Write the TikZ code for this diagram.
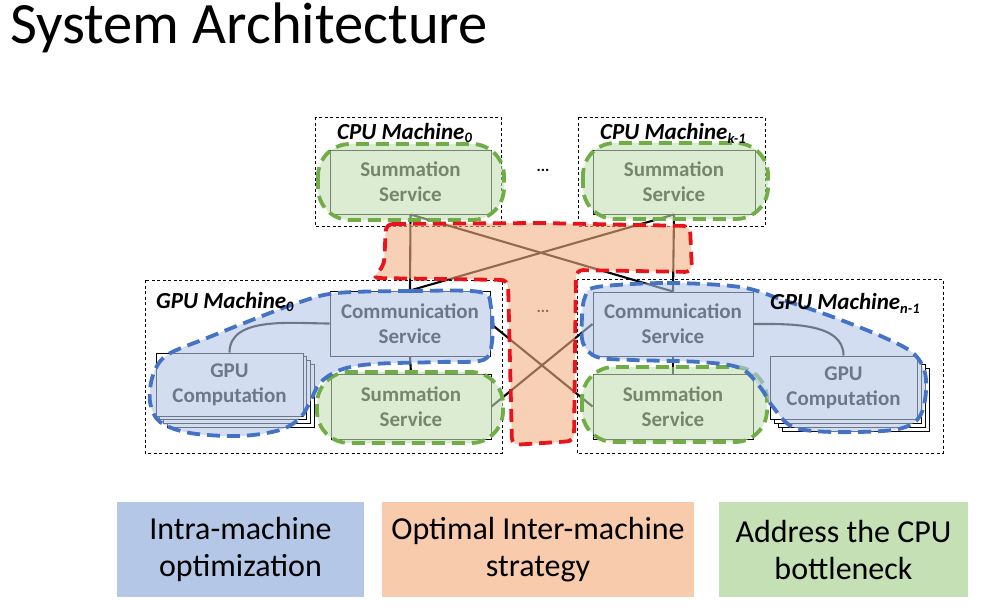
\documentclass[tikz,border=0pt]{standalone}
\usepackage{fontspec}
\setmainfont{Carlito}
\definecolor{blueov}{HTML}{B4C7E7}
\definecolor{greenov}{HTML}{C5E0B4}
\definecolor{salmonov}{HTML}{F4B183}
\definecolor{reddash}{HTML}{E8141B}
\definecolor{bluedash}{HTML}{4472C4}
\definecolor{greendash}{HTML}{70AD47}
\definecolor{legblue}{HTML}{B4C7E7}
\definecolor{legorange}{HTML}{F8CBAD}
\definecolor{leggreen}{HTML}{C5E0B4}
\newcommand\lsub[1]{\raisebox{-0.35ex}{\fontsize{14.5}{14.5}\selectfont #1}}
\tikzset{
  mbox/.style={draw=black, line width=0.9pt, dash pattern=on 3pt off 2.5pt},
  sbox/.style={draw=black, fill=white, line width=1pt, inner sep=0pt, align=center,
    font=\fontsize{21}{25}\selectfont\bfseries},
  stackbox/.style={draw=black, fill=white, line width=1pt, inner sep=0pt,
    minimum width=147pt, minimum height=63pt},
  lbl/.style={font=\fontsize{23}{27}\selectfont\bfseries\itshape, inner sep=0pt, anchor=west},
  dots/.style={font=\fontsize{16}{16}\selectfont\bfseries, inner sep=0pt},
  link/.style={line width=2.1pt, draw=black},
  ovl/.style={line width=3.8pt, dash pattern=on 13pt off 7pt, fill opacity=0.6},
  legend/.style={inner sep=0pt, align=center, font=\fontsize{32}{39}\selectfont}
}
\begin{document}
\begin{tikzpicture}[x=1pt,y=-1pt]
\useasboundingbox (0,0) rectangle (1003,613);

% title
\node[anchor=base west, inner sep=0pt, font=\fontsize{58.6}{60}\selectfont] (title) at (10,43) {System Architecture};

% machine boxes
\draw[mbox] (315,117) rectangle (501,226);
\draw[mbox] (578,117) rectangle (765,226);
\draw[mbox] (145,280) rectangle (502,453);
\draw[mbox] (577,279) rectangle (943,453);

% GPU computation stacks
\foreach \i in {3,2,1} {
  \node[stackbox] (gp0b\i) at ({229.5+3.8*\i},{384.5+3.7*\i}) {};
  \node[stackbox] (gpnb\i) at ({843.5+4*\i},{387.5+4.3*\i}) {};
}
\node[stackbox, sbox] (gp0) at (229.5,384.5) {GPU\\Computation};
\node[stackbox, sbox] (gpn) at (843.5,387.5) {GPU\\Computation};

% service boxes
\node[sbox, minimum width=161pt, minimum height=64pt] (cs0) at (410.5,182) {Summation\\Service};
\node[sbox, minimum width=162pt, minimum height=64pt] (csk) at (674,182) {Summation\\Service};
\node[sbox, minimum width=160pt, minimum height=65pt] (gc0) at (410,323.5) {Communication\\Service};
\node[sbox, minimum width=160pt, minimum height=65pt] (gs0) at (411,406.5) {Summation\\Service};
\node[sbox, minimum width=160pt, minimum height=64pt] (gcn) at (673,324) {Communication\\Service};
\node[sbox, minimum width=160pt, minimum height=65pt] (gsn) at (673,406.5) {Summation\\Service};

% dots
\node[dots] (dtop) at (543,170) {...};
\node[dots] (dmid) at (543,311) {...};

% links
\draw[link] (cs0.south) -- (gc0.north);
\draw[link] (cs0.south) -- (gcn.north);
\draw[link] (csk.south) -- (gc0.north);
\draw[link] (csk.south) -- (gcn.north);
\draw[link] (gc0.south) -- (gs0.north);
\draw[link] (gcn.south) -- (gsn.north);
\draw[link] (gc0.east) -- (gsn.west);
\draw[link] (gs0.east) -- (gcn.west);
\draw[link] (gc0.west) to[out=180,in=90,looseness=0.9] (gp0.north);
\draw[link] (gcn.east) to[out=0,in=90,looseness=0.9] (gpn.north);

% overlays: green
\draw[ovl, draw=greendash, fill=greenov, rounded corners=32pt] (318,144) rectangle (504,220);
\draw[ovl, draw=greendash, fill=greenov, rounded corners=32pt] (583,143) rectangle (768,219);
\draw[ovl, draw=greendash, fill=greenov, rounded corners=32pt] (317,372) rectangle (503,443);
\draw[ovl, draw=greendash, fill=greenov, rounded corners=32pt] (582,367) rectangle (767,442);

% overlays: blue
\draw[ovl, draw=bluedash, fill=blueov] plot[smooth cycle, tension=0.55] coordinates {
  (337,293) (410,291) (480,292) (491,307) (492,342) (483,360) (440,362) (373,364)
  (340,370) (320,383) (310,402) (300,418) (280,430) (240,436) (190,433)
  (160,422) (150,402) (153,375) (167,355) (207,338) (257,318) (300,302)};
\draw[ovl, draw=bluedash, fill=blueov] plot[smooth cycle, tension=0.55] coordinates {
  (597,287) (667,283) (740,287) (783,300) (833,317) (883,337) (913,353)
  (925,373) (925,400) (917,420) (893,430) (833,432) (793,427) (773,407)
  (760,387) (740,368) (700,362) (633,360) (597,357) (583,343) (582,317) (585,297)};

% overlay: red
\draw[ovl, draw=reddash, fill=salmonov, rounded corners=7pt]
  (386,224) -- (540,223) -- (690,226) -- (692,272) -- (576,270) -- (574,441)
  -- (512,445) -- (508,280) -- (372,278) -- (384,266) -- cycle;

% machine labels
\node[lbl] (lc0) at (337,133) {CPU Machine\lsub{0}};
\node[lbl] (lck) at (600,133) {CPU Machine\lsub{k-1}};
\node[lbl] (lg0) at (156,302) {GPU Machine\lsub{0}};
\node[lbl] (lgn) at (770,303) {GPU Machine\lsub{n-1}};

% legend
\node[legend, fill=legblue, minimum width=247pt, minimum height=95pt] (leg1) at (240.5,549.5) {\raisebox{-2pt}{Intra-machine}\\optimization};
\node[legend, fill=legorange, minimum width=312pt, minimum height=95pt] (leg2) at (538,549.5) {\raisebox{-2pt}{Optimal Inter-machine}\\strategy};
\node[legend, fill=leggreen, minimum width=249pt, minimum height=95pt] (leg3) at (843.5,549.5) {\raisebox{-2pt}{Address the CPU}\\bottleneck};
\end{tikzpicture}
\end{document}
